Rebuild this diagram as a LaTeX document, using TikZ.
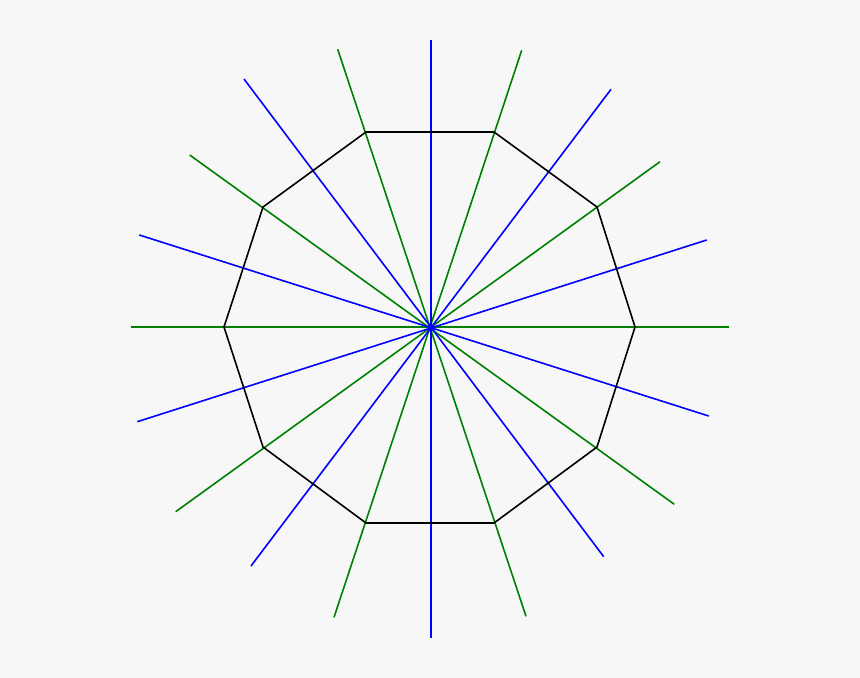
\documentclass[tikz,border=0pt]{standalone}
\usepackage{tikz}
\tikzset{every picture/.style={line width=1.2pt}}

\begin{document}
\begin{tikzpicture}[x=0.75pt,y=0.75pt,yscale=-1,xscale=1]
	%background, sets the diagram size 860 x 678
	\fill [color={rgb, 255:red, 247; green, 247; blue, 247 }] (0,0) rectangle (860,678) ;
	
	%Straight Lines [vertex axes]
	\draw [color={rgb, 255:red, 0; green, 128; blue, 0 }  ,draw opacity=1 ]  (131,327) -- (729,327) ;
	\draw [color={rgb, 255:red, 0; green, 128; blue, 0 }  ,draw opacity=1 ]  (660,161.7) -- (175.7,511.7) ;
	\draw [color={rgb, 255:red, 0; green, 128; blue, 0 }  ,draw opacity=1 ]  (521.7,50.3) -- (334,617.3) ;
	\draw [color={rgb, 255:red, 0; green, 128; blue, 0 }  ,draw opacity=1 ]  (337.7,49.3) -- (526,616.3) ;
	\draw [color={rgb, 255:red, 0; green, 128; blue, 0 }  ,draw opacity=1 ]  (189.7,155) -- (674.3,504.3) ;
	
	%Straight Lines [edge axes]
	\draw [color={rgb, 255:red, 0; green, 0; blue, 255 }  ,draw opacity=1 ]  (430.8,40.3) -- (430.8,637.7) ;
	\draw [color={rgb, 255:red, 0; green, 0; blue, 255 }  ,draw opacity=1 ]  (611,89.3) -- (251,566) ;
	\draw [color={rgb, 255:red, 0; green, 0; blue, 255 }  ,draw opacity=1 ]  (244,79) -- (603.7,556.7) ;
	\draw [color={rgb, 255:red, 0; green, 0; blue, 255 }  ,draw opacity=1 ]  (706.7,240) -- (137.3,421.7) ;
	\draw [color={rgb, 255:red, 0; green, 0; blue, 255 }  ,draw opacity=1 ]  (139.3,235) -- (708.7,416) ;
	
	%Shape: Polygon [decagon]
	\draw [line join=round]  (635,327) -- (597,207) -- (494,132) -- (366,132) -- (263,207) -- (224,327) -- (263,447) -- (366,523) -- (494,523) -- (597,447) -- cycle ;
	
\end{tikzpicture}
\end{document}
